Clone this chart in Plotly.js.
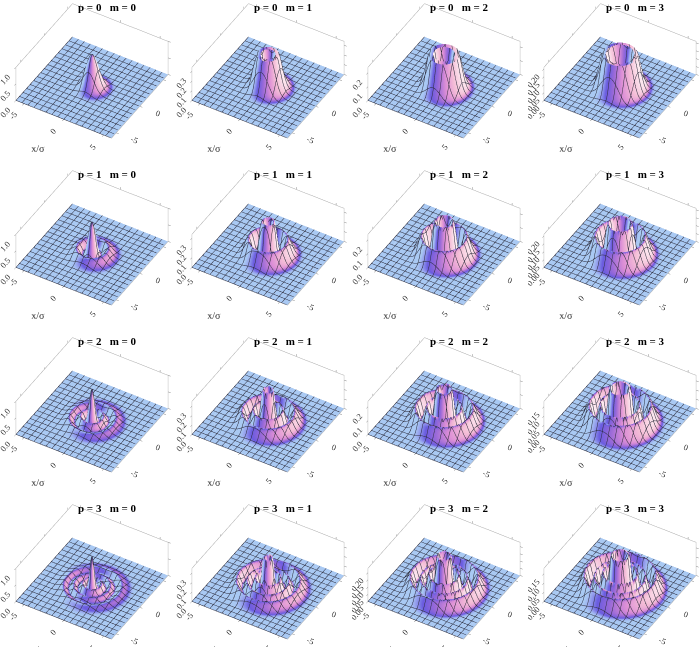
<!DOCTYPE html>
<html><head><meta charset="utf-8">
<script src="https://cdn.plot.ly/plotly-3.0.1.min.js"></script>
<style>html,body{margin:0;padding:0;overflow:hidden;background:#fff}#chart{width:704px;height:668px}</style>
</head><body><div id="chart"></div>
<script>
// Rows: radial index p ; columns: azimuthal index m
const pValues = [0, 1, 2, 3];
const mValues = [0, 1, 2, 3];
const xyTicks = [-5, 0, 5];
const xyRange = [-6, 6];
const meshStep = 0.75;
// top of the z box (row p = 0..3, column m = 0..3)
const zTopP0 = [1.0, 0.34, 0.24, 0.21];
const zTopP1 = [1.0, 0.34, 0.24, 0.21];
const zTopP2 = [1.0, 0.35, 0.24, 0.18];
const zTopP3 = [1.0, 0.35, 0.23, 0.18];
// z tick labels
const zTicksA = ['0.0', '0.5', '1.0'];
const zTicksB = ['0.0', '0.1', '0.2', '0.3'];
const zTicksC = ['0.0', '0.1', '0.2'];
const zTicksD = ['0.00', '0.05', '0.10', '0.15', '0.20'];
const zTicksE = ['0.00', '0.05', '0.10', '0.15'];
const zTickRowP0 = [zTicksA, zTicksB, zTicksC, zTicksD];
const zTickRowP1 = [zTicksA, zTicksB, zTicksC, zTicksD];
const zTickRowP2 = [zTicksA, zTicksB, zTicksC, zTicksE];
const zTickRowP3 = [zTicksA, zTicksB, zTicksD, zTicksE];

const zTops = [zTopP0, zTopP1, zTopP2, zTopP3];
const zTickSets = [zTickRowP0, zTickRowP1, zTickRowP2, zTickRowP3];

// Laguerre-Gaussian intensity |LG_pm|^2 (the plotted function)
function laguerre(p, m, x) {
  if (p === 0) return 1;
  let l0 = 1, l1 = 1 + m - x;
  for (let k = 1; k < p; k++) {
    const l2 = ((2 * k + 1 + m - x) * l1 - (k + m) * l0) / (k + 1);
    l0 = l1; l1 = l2;
  }
  return l1;
}
function fact(n) { let f = 1; for (let i = 2; i <= n; i++) f *= i; return f; }
function intensity(p, m, x, y) {
  const rho = x * x + y * y;
  const L = laguerre(p, m, rho);
  return fact(p) / fact(p + m) * Math.pow(rho, m) * L * L * Math.exp(-rho);
}

const N = 73;
const grid = [];
for (let i = 0; i < N; i++) grid.push(xyRange[0] + (xyRange[1] - xyRange[0]) * i / (N - 1));

const W = 704, H = 668, cellW = 176, cellH = 167;
const rx = 2.4 / Math.hypot(2.4, 1.3), ry = 1.3 / Math.hypot(2.4, 1.3);

const data = [];
const layout = {
  width: W, height: H, margin: {l: 0, r: 0, t: 0, b: 0},
  paper_bgcolor: '#fff', showlegend: false, hovermode: false,
  annotations: []
};
const serif = 'Liberation Serif, Times New Roman, serif';

pValues.forEach((p, r) => {
  mValues.forEach((m, c) => {
    const idx = r * 4 + c + 1;
    const sname = idx === 1 ? 'scene' : 'scene' + idx;
    const zTop = zTops[r][c];
    const z = [], sc = [];
    const h = 1e-3;
    const k = 0.4 * 12 / zTop;
    for (let j = 0; j < N; j++) {
      const row = [], crow = [];
      for (let i = 0; i < N; i++) {
        const x = grid[i], y = grid[j];
        const v = intensity(p, m, x, y);
        row.push(v);
        const gx = (intensity(p, m, x + h, y) - intensity(p, m, x - h, y)) / (2 * h) * k;
        const gy = (intensity(p, m, x, y + h) - intensity(p, m, x, y - h)) / (2 * h) * k;
        const g = Math.hypot(gx, gy);
        const s = Math.pow(g / Math.sqrt(1 + g * g), 1.4);
        const t = g > 1e-9 ? (-gx * rx - gy * ry) / g : 0;
        crow.push(Math.min(1, Math.max(0, s * (0.45 + 0.55 * t))));
      }
      z.push(row); sc.push(crow);
    }
    data.push({
      type: 'surface', scene: sname, x: grid, y: grid, z: z,
      surfacecolor: sc, cmin: 0, cmax: 1, showscale: false,
      colorscale: [[0, '#a9c9f3'], [0.05, '#98a4ee'], [0.14, '#6a5ce0'], [0.3, '#9a6ad8'],
                   [0.5, '#dc8ed6'], [0.72, '#f4bcd6'], [1, '#fff4f6']],
      lighting: {ambient: 1.0, diffuse: 0.1, specular: 0, roughness: 1, fresnel: 0},
      contours: {
        x: {show: true, start: xyRange[0], end: xyRange[1], size: meshStep, color: '#2a2a3a', width: 1, highlight: false},
        y: {show: true, start: xyRange[0], end: xyRange[1], size: meshStep, color: '#2a2a3a', width: 1, highlight: false},
        z: {show: false, highlight: false}
      },
      hoverinfo: 'skip'
    });
    const ax = {
      showgrid: false, zeroline: false, showbackground: false, showline: true,
      linecolor: '#a8a8a8', linewidth: 1, mirror: 'all', ticks: 'outside', ticklen: 3,
      tickcolor: '#888', tickfont: {family: serif, size: 10, color: '#333'},
      showspikes: false
    };
    const zt = zTickSets[r][c];
    layout[sname] = {
      domain: {x: [c * cellW / W, (c + 1) * cellW / W],
               y: [Math.max(0, 1 - (r * cellH + cellH) / H), 1 - r * cellH / H]},
      aspectmode: 'manual', aspectratio: {x: 1.33, y: 1.33, z: 0.532},
      camera: {eye: {x: 0.61, y: -1.125, z: 0.94}, center: {x: -0.04, y: -0.027, z: -0.2},
               up: {x: 0, y: 0, z: 1}, projection: {type: 'orthographic'}},
      xaxis: Object.assign({}, ax, {range: xyRange, tickvals: xyTicks, ticktext: xyTicks.map(String),
        title: {text: 'x/σ', font: {family: serif, size: 10, color: '#333'}}}),
      yaxis: Object.assign({}, ax, {range: xyRange, tickvals: xyTicks, ticktext: xyTicks.map(String),
        title: {text: 'y/σ', font: {family: serif, size: 10, color: '#333'}}}),
      zaxis: Object.assign({}, ax, {range: [0, zTop], tickvals: zt.map(Number), ticktext: zt,
        title: {text: ''}})
    };
    layout.annotations.push({
      xref: 'paper', yref: 'paper', x: (c * cellW + 107) / W, y: 1 - (r * cellH + 7) / H,
      xanchor: 'center', yanchor: 'middle', showarrow: false,
      text: '<b>p = ' + p + '\u00a0\u00a0 m = ' + m + '</b>',
      font: {family: serif, size: 11, color: '#000'}
    });
  });
});

Plotly.newPlot('chart', data, layout, {displayModeBar: false});
</script></body></html>
